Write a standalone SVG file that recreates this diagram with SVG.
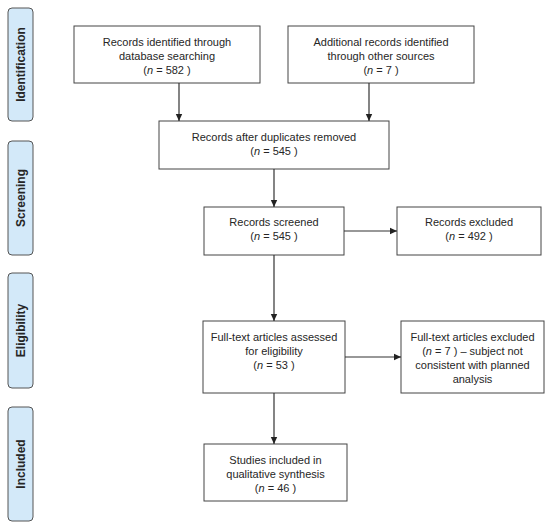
<svg xmlns="http://www.w3.org/2000/svg" width="550" height="527" viewBox="0 0 550 527">
<style>
.box{fill:#fff;stroke:#444;stroke-width:1}
.side{fill:#d3e9f9;stroke:#555;stroke-width:1}
text{font-family:"Liberation Sans",Arial,sans-serif;font-size:11px;fill:#262626;text-anchor:middle}
.st{font-weight:bold;font-size:12px}
.c{stroke:#333;stroke-width:1.2;fill:none;marker-end:url(#ah)}
</style>
<defs>
<marker id="ah" markerWidth="8" markerHeight="8" refX="7" refY="4" orient="auto" markerUnits="userSpaceOnUse">
<path d="M0,0.8 L7,4 L0,7.2 z" fill="#222"/>
</marker>
</defs>
<rect width="550" height="527" fill="#fff"/>
<g id="side-identification"><rect class="side" x="8" y="8" width="25" height="113" rx="4"/><text class="st" transform="translate(25,64.5) rotate(-90)">Identification</text></g>
<g id="side-screening"><rect class="side" x="8" y="141" width="25" height="114" rx="4"/><text class="st" transform="translate(25,198) rotate(-90)">Screening</text></g>
<g id="side-eligibility"><rect class="side" x="8" y="273" width="25" height="115" rx="4"/><text class="st" transform="translate(25,330.5) rotate(-90)">Eligibility</text></g>
<g id="side-included"><rect class="side" x="8" y="407" width="25" height="114" rx="4"/><text class="st" transform="translate(25,464) rotate(-90)">Included</text></g>

<g id="n-db"><rect class="box" x="74" y="26" width="186" height="57"/>
<text x="167" y="46">Records identified through</text><text x="167" y="60">database searching</text><text x="167" y="74">(<tspan font-style="italic">n</tspan> = 582 )</text></g>
<g id="n-other"><rect class="box" x="288" y="26" width="186" height="57"/>
<text x="381" y="46">Additional records identified</text><text x="381" y="60">through other sources</text><text x="381" y="74">(<tspan font-style="italic">n</tspan> = 7 )</text></g>
<g id="n-dup"><rect class="box" x="159" y="121" width="230" height="48"/>
<text x="274" y="141">Records after duplicates removed</text><text x="274" y="155">(<tspan font-style="italic">n</tspan> = 545 )</text></g>
<g id="n-screened"><rect class="box" x="204" y="207" width="140" height="48"/>
<text x="274" y="226">Records screened</text><text x="274" y="240">(<tspan font-style="italic">n</tspan> = 545 )</text></g>
<g id="n-excluded"><rect class="box" x="397" y="207" width="144" height="48"/>
<text x="469" y="226">Records excluded</text><text x="469" y="240">(<tspan font-style="italic">n</tspan> = 492  )</text></g>
<g id="n-fulltext"><rect class="box" x="203" y="321" width="142" height="72"/>
<text x="274" y="341">Full-text articles assessed</text><text x="274" y="355">for eligibility</text><text x="274" y="369">(<tspan font-style="italic">n</tspan> = 53 )</text></g>
<g id="n-ftexcluded"><rect class="box" x="401" y="321" width="143" height="72"/>
<text x="472.5" y="341">Full-text articles excluded</text><text x="472.5" y="355">(<tspan font-style="italic">n</tspan> =  7 ) – subject not</text><text x="472.5" y="369">consistent with planned</text><text x="472.5" y="383">analysis</text></g>
<g id="n-studies"><rect class="box" x="204" y="444" width="143" height="57"/>
<text x="275.5" y="464">Studies included in</text><text x="275.5" y="478">qualitative synthesis</text><text x="275.5" y="492">(<tspan font-style="italic">n</tspan> = 46 )</text></g>

<g id="connectors">
<line class="c" x1="179" y1="83" x2="179" y2="121"/>
<line class="c" x1="369" y1="83" x2="369" y2="121"/>
<line class="c" x1="274" y1="169" x2="274" y2="207"/>
<line class="c" x1="344" y1="231" x2="397" y2="231"/>
<line class="c" x1="274" y1="255" x2="274" y2="321"/>
<line class="c" x1="345" y1="357" x2="401" y2="357"/>
<line class="c" x1="274" y1="393" x2="274" y2="444"/>
</g>
</svg>
